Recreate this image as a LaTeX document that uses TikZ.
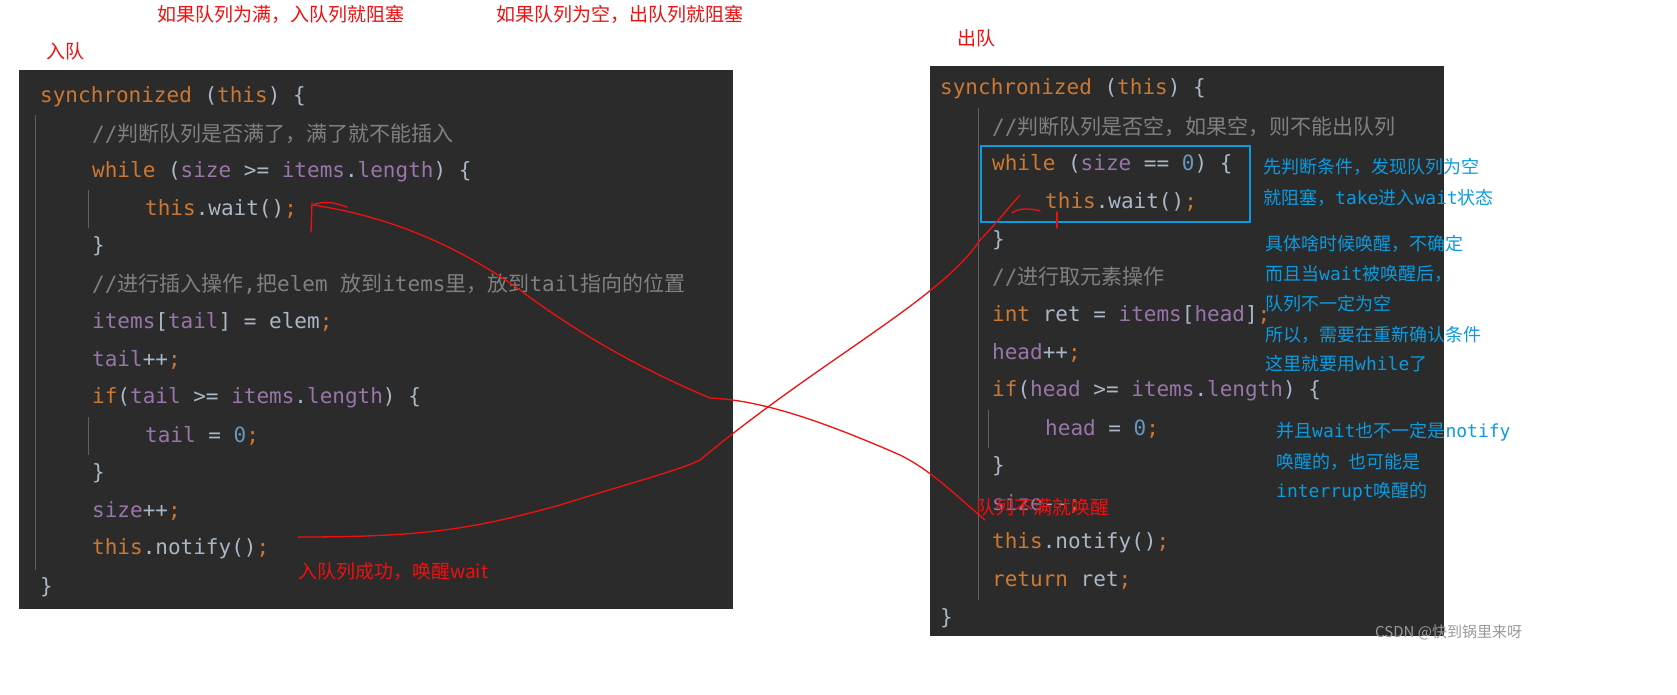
\documentclass[tikz,border=0pt]{standalone}
\usepackage{fontspec}
\setmonofont{DejaVu Sans Mono}
\newfontfamily\cjk{Noto Sans CJK SC}
\definecolor{bg}{HTML}{2B2B2B}
\definecolor{kwc}{HTML}{CC7832}
\definecolor{fldc}{HTML}{9876AA}
\definecolor{cmc}{HTML}{808080}
\definecolor{numc}{HTML}{6897BB}
\definecolor{txc}{HTML}{A9B7C6}
\definecolor{annred}{HTML}{F01010}
\definecolor{annblue}{HTML}{0A9BE0}
\newcommand\kw[1]{\textcolor{kwc}{#1}}
\newcommand\fld[1]{\textcolor{fldc}{#1}}
\newcommand\nm[1]{\textcolor{numc}{#1}}
\newcommand\cz[1]{{\cjk #1}}
\tikzset{
 code/.style={anchor=west,inner sep=0pt,text=txc,font=\ttfamily\fontsize{21}{21}\selectfont},
 cmt/.style={code,text=cmc},
 rednote/.style={anchor=west,inner sep=0pt,text=annred,font=\cjk\fontsize{19}{19}\selectfont},
 bluenote/.style={anchor=west,inner sep=0pt,text=annblue,font=\ttfamily\fontsize{18}{18}\selectfont},
 guide/.style={draw=white!25!bg,line width=0.8pt},
 redline/.style={draw=annred,line width=1.3pt,line cap=round,line join=round},
}
\begin{document}
\begin{tikzpicture}[x=1pt,y=-1pt]
\useasboundingbox (0,0) rectangle (1677,694);
\fill[white] (0,0) rectangle (1677,694);
\fill[bg] (19,70) rectangle (733,609);
\fill[bg] (930,66) rectangle (1444,636);
\draw[guide] (35,115)--(35,570);
\draw[guide] (88,190)--(88,228);
\draw[guide] (88,417)--(88,455);
\draw[guide] (978,108)--(978,600);
\draw[guide] (988,410)--(988,448);
\node[code] (l1) at (40,97) {\kw{synchronized} (\kw{this}) \{};
\node[cmt] (l2) at (92,134) {//\cz{判断队列是否满了，满了就不能插入}};
\node[code] (l3) at (92,172) {\kw{while} (\fld{size} >= \fld{items}.\fld{length}) \{};
\node[code] (l4) at (145,209) {\kw{this}.wait()\kw{;}};
\node[code] (l5) at (92,246) {\}};
\node[cmt] (l6) at (92,284) {//\cz{进行插入操作}{,}\cz{把}elem \cz{放到}items\cz{里，放到}tail\cz{指向的位置}};
\node[code] (l7) at (92,322) {\fld{items}[\fld{tail}] = elem\kw{;}};
\node[code] (l8) at (92,360) {\fld{tail}++\kw{;}};
\node[code] (l9) at (92,398) {\kw{if}(\fld{tail} >= \fld{items}.\fld{length}) \{};
\node[code] (l10) at (145,436) {\fld{tail} = \nm{0}\kw{;}};
\node[code] (l11) at (92,473) {\}};
\node[code] (l12) at (92,511) {\fld{size}++\kw{;}};
\node[code] (l13) at (92,549) {\kw{this}.notify()\kw{;}};
\node[code] (l14) at (40,587) {\}};
\node[code] (r1) at (940,89) {\kw{synchronized} (\kw{this}) \{};
\node[cmt] (r2) at (992,127) {//\cz{判断队列是否空，如果空，则不能出队列}};
\node[code] (r3) at (992,164) {\kw{while} (\fld{size} == \nm{0}) \{};
\node[code] (r4) at (1045,202) {\kw{this}.wait()\kw{;}};
\node[code] (r5) at (992,240) {\}};
\node[cmt] (r6) at (992,277) {//\cz{进行取元素操作}};
\node[code] (r7) at (992,315) {\kw{int} ret = \fld{items}[\fld{head}]\kw{;}};
\node[code] (r8) at (992,353) {\fld{head}++\kw{;}};
\node[code] (r9) at (992,391) {\kw{if}(\fld{head} >= \fld{items}.\fld{length}) \{};
\node[code] (r10) at (1045,429) {\fld{head} = \nm{0}\kw{;}};
\node[code] (r11) at (992,466) {\}};
\node[code] (r12) at (992,504) {\fld{size}--\kw{;}};
\node[code] (r13) at (992,543) {\kw{this}.notify()\kw{;}};
\node[code] (r14) at (992,581) {\kw{return} ret\kw{;}};
\node[code] (r15) at (940,618) {\}};
\draw[annblue,line width=2pt] (981,146) rectangle (1250,222);
\node[bluenote] (b1) at (1263,167) {\cz{先判断条件，发现队列为空}};
\node[bluenote] (b2) at (1263,198) {\cz{就阻塞，}take\cz{进入}wait\cz{状态}};
\node[bluenote] (b3) at (1265,244) {\cz{具体啥时候唤醒，不确定}};
\node[bluenote] (b4) at (1265,274) {\cz{而且当}wait\cz{被唤醒后，}};
\node[bluenote] (b5) at (1265,304) {\cz{队列不一定为空}};
\node[bluenote] (b6) at (1265,335) {\cz{所以，需要在重新确认条件}};
\node[bluenote] (b7) at (1265,364) {\cz{这里就要用}while\cz{了}};
\node[bluenote] (b8) at (1276,432) {\cz{并且}wait\cz{也不一定是}notify};
\node[bluenote] (b9) at (1276,462) {\cz{唤醒的，也可能是}};
\node[bluenote] (b10) at (1276,492) {interrupt\cz{唤醒的}};
\node[rednote] (t1) at (157,14) {如果队列为满，入队列就阻塞};
\node[rednote] (t2) at (496,14) {如果队列为空，出队列就阻塞};
\node[rednote] (t3) at (46,51) {入队};
\node[rednote] (t4) at (957,38) {出队};
\node[rednote] (t5) at (298,572) {入队列成功，唤醒wait};
\node[rednote] (t6) at (976,507) {队列不满就唤醒};
\coordinate (c1s) at (298,537);
\draw[redline] (c1s) .. controls (420,537) and (470,530) .. (560,505)
  .. controls (640,480) and (680,470) .. (700,460)
  .. controls (820,360) and (940,300) .. (980,240)
  .. controls (995,225) and (1015,200) .. (1020,195);
\draw[redline] (1012,213) .. controls (1018,208) and (1030,208) .. (1040,211);
\draw[redline] (1057,212)--(1057,228);
\coordinate (c2s) at (985,520);
\draw[redline] (c2s) .. controls (950,490) and (930,470) .. (900,455)
  .. controls (820,420) and (760,400) .. (710,398)
  .. controls (620,360) and (560,320) .. (520,290)
  .. controls (450,240) and (380,215) .. (313,205);
\draw[redline] (313,205) .. controls (325,200) and (335,203) .. (347,207);
\draw[redline] (312,203)--(311,232);
\node[anchor=west,inner sep=0pt,text=gray!80,font=\cjk\fontsize{15}{15}\selectfont] (wm) at (1375,632) {CSDN @快到锅里来呀};
\end{tikzpicture}
\end{document}
